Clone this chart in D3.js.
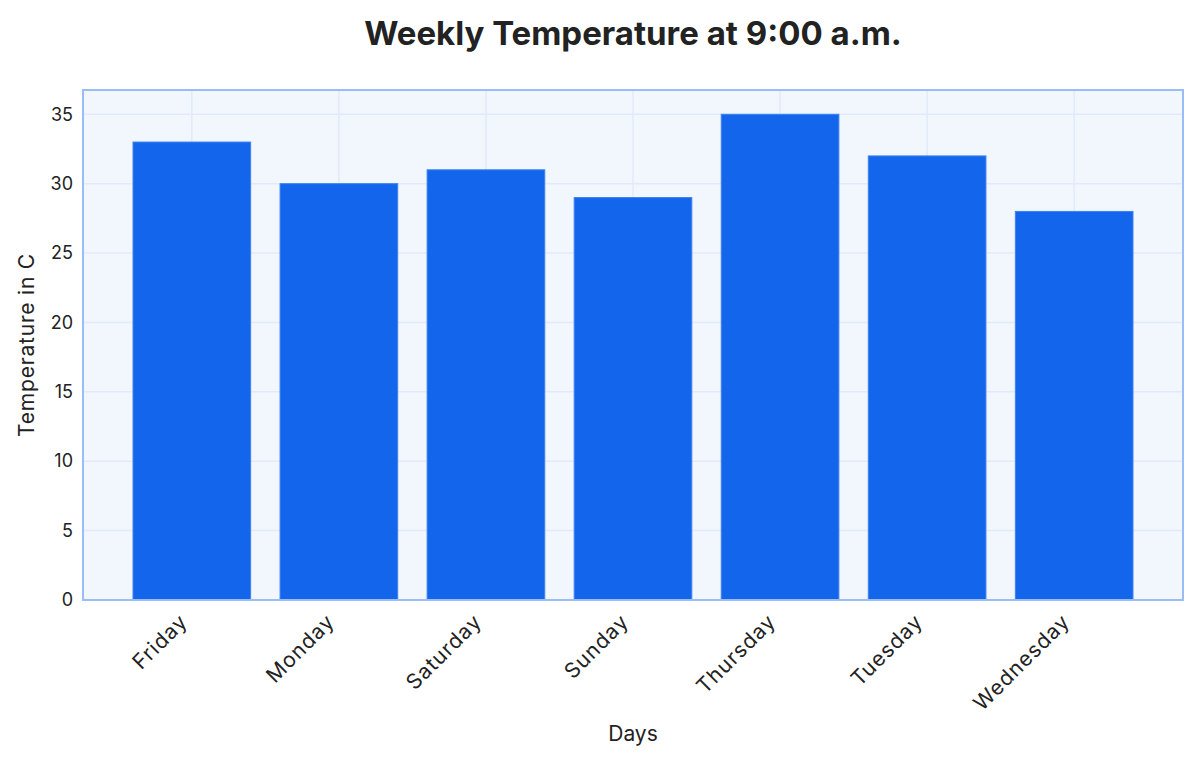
<!DOCTYPE html>
<html><head><meta charset="utf-8">
<script src="https://cdn.jsdelivr.net/npm/d3@7"></script>
<style>body{margin:0;background:#fff}svg{display:block}text{font-family:Inter,"Noto Sans",sans-serif;fill:#222}</style>
</head><body><svg id="c" width="1200" height="764"></svg>
<script>
const days = ["Friday","Monday","Saturday","Sunday","Thursday","Tuesday","Wednesday"];
const temps = [33,30,31,29,35,32,28];
const yTicks = [0,5,10,15,20,25,30,35];

const svg = d3.select("#c");
const L=83,R=1183,T=90,B=600;
const x = d3.scaleLinear().domain([-0.74, days.length-1+0.74]).range([L,R]);
const y = d3.scaleLinear().domain([0,36.75]).range([B,T]);
const bw = x(0.4)-x(-0.4);

svg.append("rect").attr("x",L).attr("y",T).attr("width",R-L).attr("height",B-T).attr("fill","#f2f7fe");
const g = svg.append("g");
g.selectAll(".gy").data(yTicks).join("line").attr("x1",L).attr("x2",R).attr("y1",d=>y(d)).attr("y2",d=>y(d)).attr("stroke","#e2eafa").attr("stroke-width",1.5);
g.selectAll(".gx").data(days).join("line").attr("x1",(d,i)=>x(i)).attr("x2",(d,i)=>x(i)).attr("y1",T).attr("y2",B).attr("stroke","#e2eafa").attr("stroke-width",1.5);

svg.selectAll(".bar").data(temps).join("rect")
  .attr("x",(d,i)=>x(i)-bw/2).attr("width",bw)
  .attr("y",d=>y(d)).attr("height",d=>B-y(d))
  .attr("fill","#1366eb").attr("stroke","#3d82f0").attr("stroke-width",1);

svg.append("rect").attr("x",L).attr("y",T).attr("width",R-L).attr("height",B-T).attr("fill","none").attr("stroke","#9bbdf5").attr("stroke-width",2);

// y axis
const ya = svg.append("g").attr("transform",`translate(${L},0)`).call(d3.axisLeft(y).tickValues(yTicks).tickSize(0).tickPadding(10));
ya.select(".domain").remove();
ya.selectAll("text").style("font-size","18px").attr("fill","#222");

// x axis labels
svg.selectAll(".xl").data(days).join("text")
  .attr("transform",(d,i)=>`translate(${x(i)-3},${B+23}) rotate(-45)`)
  .attr("text-anchor","end")
  .style("font-size","21px").style("letter-spacing","1px").text(d=>d);

svg.append("text").attr("x",(L+R)/2).attr("y",741).attr("text-anchor","middle").style("font-size","21px").text("Days");
svg.append("text").attr("transform",`translate(34,${(T+B)/2}) rotate(-90)`).attr("text-anchor","middle").style("font-size","21px").style("letter-spacing","0.8px").text("Temperature in C");
svg.append("text").attr("x",(L+R)/2).attr("y",45).attr("text-anchor","middle").style("font-size","33px").style("font-weight","700").text("Weekly Temperature at 9:00 a.m.");
</script></body></html>
